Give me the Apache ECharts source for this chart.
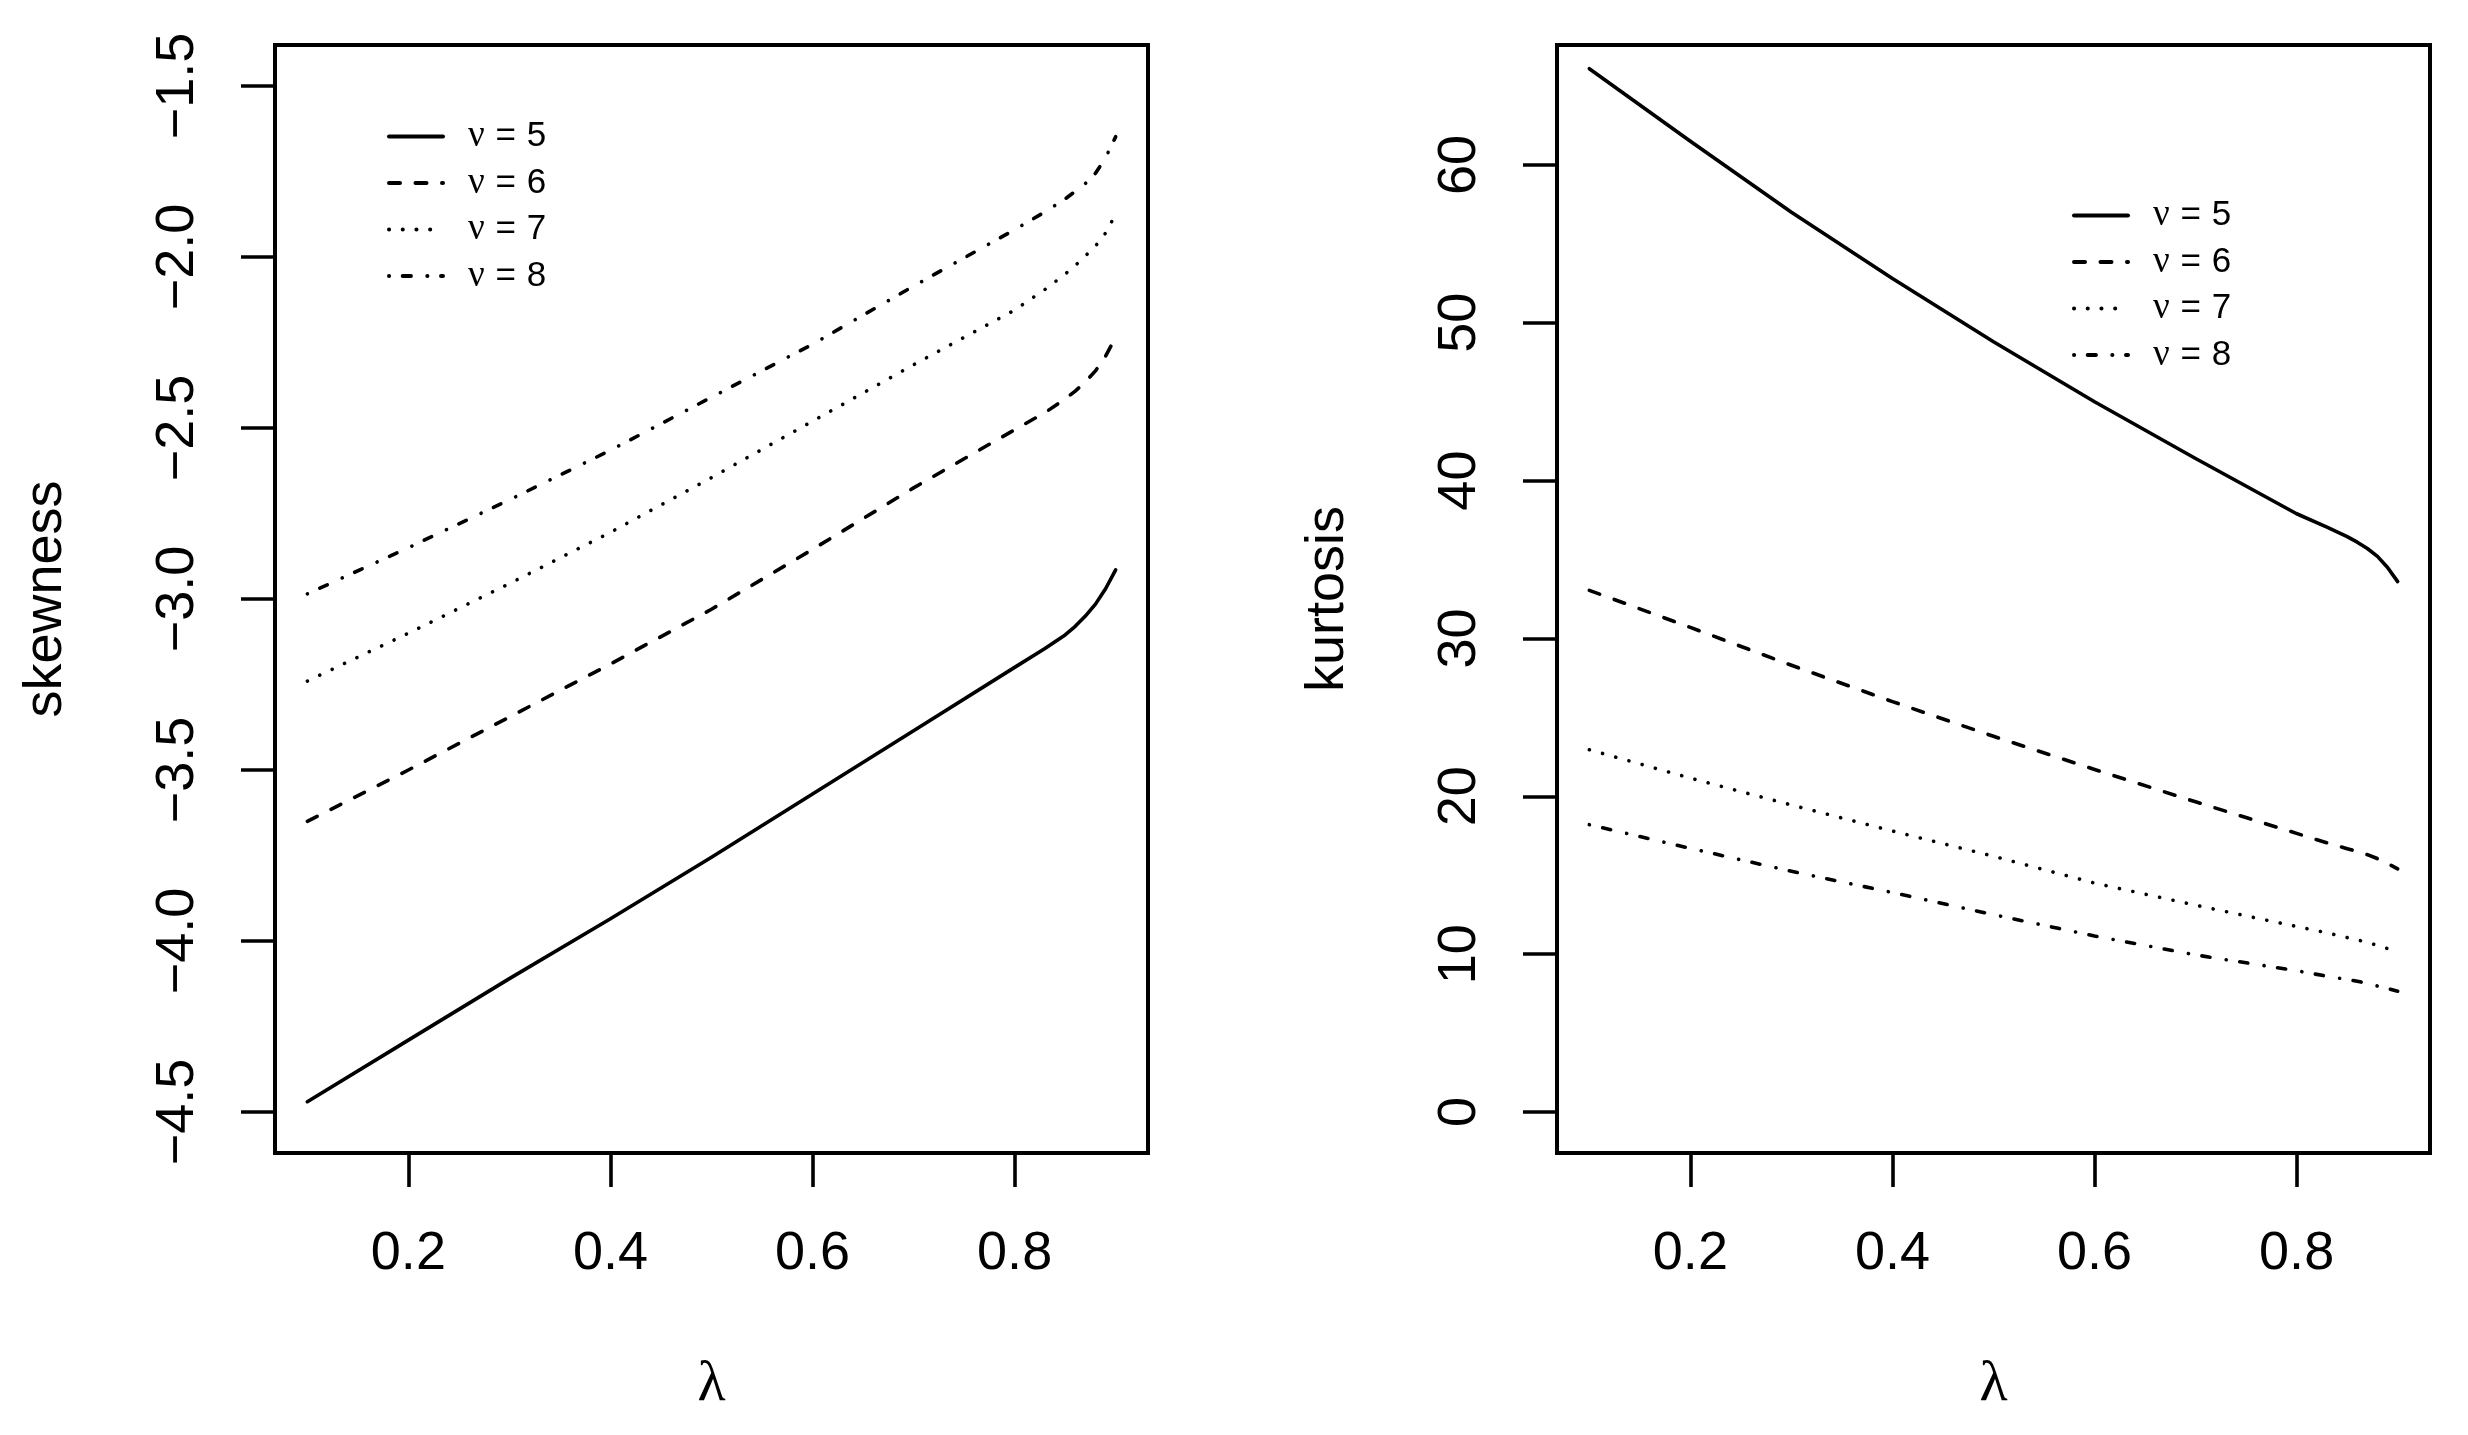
<!DOCTYPE html>
<html><head><meta charset="UTF-8">
<title>skewness / kurtosis</title>
<script src="https://cdn.jsdelivr.net/npm/echarts@6/dist/echarts.min.js"></script>
<style>html,body{margin:0;padding:0;background:#fff}#g1{width:2468px;height:1435px}</style>
</head>
<body>
<div id="g1"></div>
<script type="text/javascript">
// lambda grid the curves were read at
var lambdas = [0.1, 0.2, 0.3, 0.4, 0.5, 0.6, 0.7, 0.8, 0.83, 0.85, 0.86, 0.87, 0.88, 0.89, 0.9];
var nuNames = ['ν = 5', 'ν = 6', 'ν = 7', 'ν = 8'];

// left panel: skewness
var skew5 = [-4.47, -4.29, -4.11, -3.935, -3.755, -3.57, -3.385, -3.20, -3.145, -3.105, -3.08, -3.05, -3.015, -2.97, -2.915];
var skew6 = [-3.65, -3.50, -3.345, -3.19, -3.03, -2.855, -2.675, -2.505, -2.455, -2.415, -2.392, -2.365, -2.333, -2.29, -2.235];
var skew7 = [-3.24, -3.10, -2.955, -2.805, -2.645, -2.48, -2.315, -2.155, -2.095, -2.05, -2.025, -1.997, -1.968, -1.93, -1.875];
var skew8 = [-2.985, -2.85, -2.71, -2.565, -2.41, -2.255, -2.085, -1.92, -1.868, -1.83, -1.808, -1.785, -1.755, -1.71, -1.648];

// right panel: kurtosis
var kurt5 = [66.1, 61.5, 57.0, 52.8, 48.8, 45.0, 41.4, 37.9, 37.05, 36.45, 36.1, 35.7, 35.2, 34.5, 33.6];
var kurt6 = [33.05, 30.7, 28.3, 26.0, 23.8, 21.7, 19.65, 17.65, 17.05, 16.68, 16.5, 16.3, 16.05, 15.75, 15.4];
var kurt7 = [22.95, 21.15, 19.45, 17.8, 16.2, 14.5, 13.1, 11.75, 11.35, 11.05, 10.9, 10.75, 10.55, 10.35, 10.1];
var kurt8 = [18.2, 16.7, 15.25, 13.9, 12.5, 11.15, 9.95, 8.95, 8.6, 8.4, 8.28, 8.15, 7.98, 7.82, 7.65];

// tick labels
var xTicks = [0.2, 0.4, 0.6, 0.8];
var skewTicks = [-4.5, -4.0, -3.5, -3.0, -2.5, -2.0, -1.5];
var kurtTicks = [0, 10, 20, 30, 40, 50, 60];

// R lty: solid, dashed, dotted, dotdash
var dashes = ['solid', [11, 15.5], [0.1, 13.6], [0.1, 13.6, 8.2, 16.4]];
var LW = 3.6;
var FONT = 'Liberation Sans';

function minusFmt(v) {
    return (v < 0 ? '\u2212' : '') + Math.abs(v).toFixed(1);
}

function mkSeries(name, ys, i, idx) {
    return {
        name: name, type: 'line', xAxisIndex: idx, yAxisIndex: idx,
        data: lambdas.map(function (x, k) { return [x, ys[k]]; }),
        symbol: 'none', smooth: false, silent: true,
        lineStyle: {color: '#000', width: LW, type: dashes[i], cap: 'round', join: 'round'},
        itemStyle: {color: '#000'}
    };
}

function mkX(idx) {
    return {
        type: 'value', gridIndex: idx, min: 0.068, max: 0.932,
        splitLine: {show: false}, axisLine: {show: false, onZero: false},
        axisTick: {show: true, length: 34, customValues: xTicks, lineStyle: {color: '#000', width: LW}},
        axisLabel: {customValues: xTicks, margin: 74, fontSize: 54, fontFamily: FONT, color: '#000',
            formatter: function (v) { return v.toFixed(1); }},
        name: 'λ', nameLocation: 'middle', nameGap: 203,
        nameTextStyle: {fontFamily: 'Liberation Serif', fontSize: 58, color: '#000'}
    };
}

function mkY(idx, name, mn, mx, ticks, fmt) {
    return {
        type: 'value', gridIndex: idx, min: mn, max: mx,
        splitLine: {show: false}, axisLine: {show: false, onZero: false},
        axisTick: {show: true, length: 34, customValues: ticks, lineStyle: {color: '#000', width: LW}},
        axisLabel: {customValues: ticks, rotate: 90, margin: 70, fontSize: 54, fontFamily: FONT, color: '#000', formatter: fmt},
        name: name, nameLocation: 'middle', nameGap: 202, nameRotate: 90,
        nameTextStyle: {fontFamily: FONT, fontSize: 54, color: '#000'}
    };
}

function mkLegend(left, top) {
    return {
        orient: 'vertical', left: left, top: top, padding: 0,
        itemWidth: 54, itemHeight: 30, itemGap: 9.5, selectedMode: false,
        data: nuNames,
        lineStyle: {width: 4, cap: 'round'},
        itemStyle: {color: 'rgba(0,0,0,0)', borderWidth: 0, opacity: 0},
        formatter: function (name) {
            return '{s| }{g|ν}{e|=}{t|' + name.split('= ')[1] + '}';
        },
        textStyle: {
            color: '#000', fontFamily: FONT, fontSize: 35, lineHeight: 30,
            rich: {
                s: {width: 20, lineHeight: 30},
                g: {fontFamily: 'Liberation Serif', fontSize: 37, color: '#000', lineHeight: 30},
                e: {width: 42, align: 'center', fontFamily: FONT, fontSize: 35, color: '#000', lineHeight: 30},
                t: {fontFamily: FONT, fontSize: 35, color: '#000', lineHeight: 30}
            }
        }
    };
}

var skewSets = [skew5, skew6, skew7, skew8];
var kurtSets = [kurt5, kurt6, kurt7, kurt8];
var series = [];
nuNames.forEach(function (n, i) { series.push(mkSeries(n, skewSets[i], i, 0)); });
nuNames.forEach(function (n, i) { series.push(mkSeries(n, kurtSets[i], i, 1)); });

var option = {
    animation: false,
    backgroundColor: '#fff',
    textStyle: {fontFamily: FONT},
    grid: [
        {left: 275, top: 45, width: 873, height: 1108, show: true, borderColor: '#000', borderWidth: 4},
        {left: 1557, top: 45, width: 873, height: 1108, show: true, borderColor: '#000', borderWidth: 4}
    ],
    xAxis: [mkX(0), mkX(1)],
    yAxis: [
        mkY(0, 'skewness', -4.62, -1.38, skewTicks, minusFmt),
        mkY(1, 'kurtosis', -2.6, 67.6, kurtTicks, function (v) { return String(v); })
    ],
    legend: [mkLegend(387, 118), mkLegend(2072, 197)],
    series: series
};

var myChart = echarts.init(document.getElementById('g1'));
myChart.setOption(option);
</script>
</body></html>
